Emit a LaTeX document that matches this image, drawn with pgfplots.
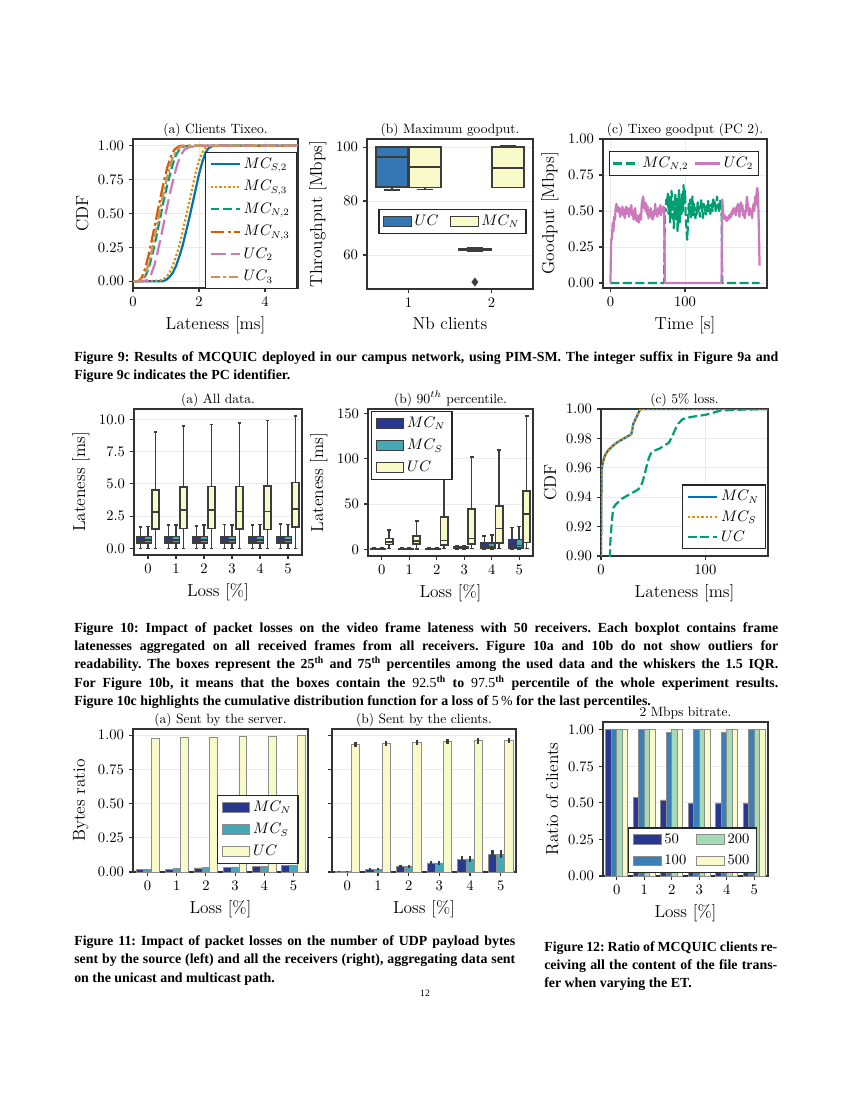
\documentclass[border=0pt]{standalone}
\usepackage{fontspec}
\newfontfamily\capfont{Liberation Serif}
\usepackage{pgfplots}
\pgfplotsset{compat=1.18}
\usepgfplotslibrary{statistics}

\definecolor{cbblue}{HTML}{0173B2}
\definecolor{cborange}{HTML}{DE8F05}
\definecolor{cbgreen}{HTML}{029E73}
\definecolor{cbred}{HTML}{D55E00}
\definecolor{cbpink}{HTML}{CC78BC}
\definecolor{cbtan}{HTML}{CA9161}
\definecolor{ucblue}{HTML}{3477B2}
\definecolor{pale}{HTML}{F9FACA}
\definecolor{navy}{HTML}{283891}
\definecolor{teal}{HTML}{45A8B6}
\definecolor{midblue}{HTML}{3A7FB6}
\definecolor{mint}{HTML}{A6D9B5}
\definecolor{edge}{HTML}{3D3D3D}
\definecolor{baredge}{HTML}{8C8C8C}
\definecolor{axisc}{HTML}{333333}
\definecolor{legc}{HTML}{262626}
\definecolor{gridc}{HTML}{EBEBEB}

\pgfplotsset{
  pg/.style={
    scale only axis, anchor=south west,
    axis line style={draw=axisc, line width=0.9pt},
    tick align=outside, tick pos=left, major tick length=3pt,
    tick style={draw=axisc, line width=0.8pt},
    /pgf/number format/assume math mode=true,
    tick label style={font=\fontsize{10.5}{12}\selectfont},
    label style={font=\fontsize{12.5}{14}\selectfont},
    title style={font=\fontsize{9.7}{11}\selectfont, anchor=base, yshift=-1.7pt},
    grid style={draw=gridc, line width=0.6pt},
    legend style={draw=legc, line width=0.8pt, fill=white,
      font=\fontsize{10.5}{12}\selectfont, inner xsep=3pt, inner ysep=2pt, row sep=1.5pt},
    legend cell align=left,
  },
  lnleg/.style={legend image code/.code={\draw[##1, line cap=butt] (0pt,0pt) -- (21pt,0pt);}},
  shortlnleg/.style={legend image code/.code={\draw[##1, line cap=butt] (0pt,0pt) -- (18pt,0pt);}},
  ptleg/.style={legend image code/.code={\draw[##1, line width=0.7pt] (0pt,-3.5pt) rectangle (20pt,3.5pt);}},
  bx/.style={boxplot prepared, forget plot, solid, draw=edge, line width=1.2pt,
    mark=diamond*, mark size=2.3pt, mark options={fill=edge, draw=edge, solid}},
  fixtwo/.style={yticklabel style={/pgf/number format/fixed, /pgf/number format/fixed zerofill, /pgf/number format/precision=2}},
  fixone/.style={yticklabel style={/pgf/number format/fixed, /pgf/number format/fixed zerofill, /pgf/number format/precision=1}},
}

\begin{document}
\frenchspacing
\begin{tikzpicture}
\fill[white] (0pt,0pt) rectangle (612pt,-792pt);

% ---------- Figure 9a ----------
\begin{axis}[pg, at={(95.76pt,-207.36pt)}, width=118.8pt, height=107.28pt,
  xmin=0, xmax=5, ymin=-0.05, ymax=1.05, xtick={0,2,4}, ytick={0,0.25,0.5,0.75,1}, fixtwo,
  grid=major, title={(a) Clients Tixeo.}, xlabel={Lateness [ms]}, ylabel={CDF},
  lnleg, legend style={at={(0.995,0.913)}, anchor=north east, row sep=3.2pt}]
\addplot[cbblue, line width=1.6pt] coordinates {
 (0,0) (0.9,0) (1.0,0.01) (1.1,0.03) (1.2,0.06) (1.3,0.11) (1.4,0.18) (1.5,0.26) (1.6,0.36)
 (1.7,0.46) (1.8,0.57) (1.9,0.68) (2.0,0.79) (2.1,0.88) (2.2,0.95) (2.3,0.985) (2.4,0.997) (2.6,1.0) (5,1.0)};
\addlegendentry{$MC_{S,2}$}
\addplot[cborange, line width=1.6pt, dash pattern=on 1.6pt off 1.6pt] coordinates {
 (0,0) (0.4,0) (0.8,0.005) (0.9,0.01) (1.0,0.03) (1.1,0.06) (1.2,0.11) (1.3,0.18) (1.4,0.26) (1.5,0.36)
 (1.6,0.47) (1.7,0.58) (1.8,0.69) (1.9,0.8) (2.0,0.89) (2.1,0.95) (2.2,0.985) (2.3,0.997) (2.5,1.0) (5,1.0)};
\addlegendentry{$MC_{S,3}$}
\addplot[cbgreen, line width=1.6pt, dash pattern=on 6.4pt off 2.6pt] coordinates {
 (0,0) (0.2,0) (0.3,0.01) (0.4,0.05) (0.5,0.12) (0.6,0.21) (0.7,0.32) (0.8,0.44) (0.9,0.56) (1.0,0.67)
 (1.1,0.77) (1.2,0.86) (1.3,0.93) (1.4,0.97) (1.5,0.99) (1.6,0.998) (1.8,1.0) (5,1.0)};
\addlegendentry{$MC_{N,2}$}
\addplot[cbred, line width=1.6pt, dash pattern=on 10pt off 2.4pt on 2pt off 2.4pt] coordinates {
 (0,0) (0.15,0) (0.25,0.02) (0.35,0.08) (0.45,0.17) (0.55,0.28) (0.65,0.4) (0.75,0.52) (0.85,0.64)
 (0.95,0.75) (1.05,0.85) (1.15,0.92) (1.25,0.97) (1.35,0.99) (1.45,1.0) (5,1.0)};
\addlegendentry{$MC_{N,3}$}
\addplot[cbpink, line width=1.6pt, dash pattern=on 11pt off 4pt] coordinates {
 (0,0) (0.3,0) (0.45,0.01) (0.55,0.05) (0.65,0.12) (0.75,0.22) (0.85,0.33) (0.95,0.45) (1.05,0.57)
 (1.15,0.68) (1.25,0.78) (1.35,0.87) (1.45,0.93) (1.55,0.97) (1.7,0.99) (1.9,0.997) (2.2,1.0) (5,1.0)};
\addlegendentry{$UC_2$}
\addplot[cbtan, line width=1.6pt, dash pattern=on 7pt off 2pt on 2pt off 2pt] coordinates {
 (0,0) (0.2,0) (0.3,0.02) (0.4,0.07) (0.5,0.15) (0.6,0.26) (0.7,0.38) (0.8,0.5) (0.9,0.62) (1.0,0.73)
 (1.1,0.83) (1.2,0.91) (1.3,0.96) (1.4,0.985) (1.5,0.997) (1.6,1.0) (5,1.0)};
\addlegendentry{$UC_3$}
\end{axis}

% ---------- Figure 9b ----------
\begin{axis}[pg, at={(264.24pt,-208.08pt)}, width=119.52pt, height=108pt,
  xmin=-0.5, xmax=1.5, ymin=47.4, ymax=103, xtick={0,1}, xticklabels={1,2}, ytick={60,80,100},
  ymajorgrids, title={(b) Maximum goodput.}, xlabel={Nb clients}, ylabel={Throughput [Mbps]},
  boxplot/draw direction=y, boxplot/box extend=0.39, boxplot/whisker extend=0.2,
  ptleg, legend columns=2,
  legend style={at={(0.515,0.45)}, anchor=center, /tikz/every even column/.append style={column sep=6pt}}]
\addplot[bx, fill=ucblue, boxplot prepared={draw position=-0.2, lower whisker=84, lower quartile=85.2, median=96.3, upper quartile=100, upper whisker=100}] coordinates {};
\addplot[bx, fill=pale, boxplot prepared={draw position=0.2, lower whisker=84.3, lower quartile=85, median=92.5, upper quartile=100, upper whisker=100}] coordinates {};
\addplot[bx, fill=ucblue, boxplot prepared={draw position=0.8, lower whisker=61.5, lower quartile=61.8, median=62, upper quartile=62.3, upper whisker=62.6}] table[row sep=\\, y index=0] {50\\};
\addplot[bx, fill=pale, boxplot prepared={draw position=1.2, lower whisker=85, lower quartile=85, median=92.3, upper quartile=100, upper whisker=100.3}] coordinates {};
\addlegendimage{fill=ucblue, draw=edge}
\addlegendentry{$UC$}
\addlegendimage{fill=pale, draw=edge}
\addlegendentry{$MC_N$}
\end{axis}

% ---------- Figure 9c ----------
\begin{axis}[pg, at={(434.16pt,-207.36pt)}, width=118.08pt, height=107.28pt,
  xmin=-10, xmax=210, ymin=-0.035, ymax=1.0, xtick={0,100}, ytick={0,0.25,0.5,0.75,1}, fixtwo,
  grid=major, title={(c) Tixeo goodput (PC 2).}, xlabel={Time [s]}, ylabel={Goodput [Mbps]},
  shortlnleg, legend columns=2,
  legend style={at={(0.494,0.836)}, anchor=center, inner xsep=2pt, /tikz/every even column/.append style={column sep=2pt}}]
\addplot[cbgreen, line width=1.6pt, dash pattern=on 6.4pt off 2.6pt, line join=round] coordinates {
 (0,0) (72,0) (73,0.52) (74,0.5) (75,0.58) (76,0.55) (77,0.62) (78,0.48) (79,0.6) (80,0.42) (81,0.55)
 (82,0.64) (83,0.45) (84,0.58) (85,0.38) (86,0.5) (87,0.62) (88,0.44) (89,0.6) (90,0.36) (91,0.52)
 (92,0.65) (93,0.42) (94,0.58) (95,0.46) (96,0.62) (97,0.5) (98,0.68) (99,0.55) (100,0.64) (101,0.45)
 (102,0.38) (103,0.3) (104,0.42) (105,0.55) (106,0.48) (107,0.58) (108,0.45) (109,0.52) (110,0.6)
 (111,0.47) (112,0.55) (113,0.5) (114,0.45) (115,0.52) (116,0.48) (117,0.56) (118,0.5) (119,0.53)
 (120,0.46) (121,0.52) (122,0.58) (123,0.5) (124,0.45) (125,0.55) (126,0.5) (127,0.52) (128,0.46)
 (129,0.55) (130,0.5) (131,0.57) (132,0.5) (133,0.54) (134,0.48) (135,0.52) (136,0.55) (137,0.5)
 (138,0.58) (139,0.53) (140,0.56) (141,0.5) (142,0.55) (143,0.6) (144,0.52) (145,0.55) (146,0.5)
 (147,0.57) (148,0.55) (149,0.52) (150,0) (200,0)};
\addlegendentry{$MC_{N,2}$}
\addplot[cbpink, line width=1.6pt, line join=round] coordinates {
 (0,0) (1,0.30) (2,0.31) (3,0.42) (4,0.36) (5,0.46) (6,0.44) (7,0.52) (8,0.55) (9,0.5) (10,0.53)
 (11,0.49) (12,0.52) (13,0.46) (14,0.51) (15,0.48) (16,0.53) (17,0.47) (18,0.51) (19,0.45) (20,0.5)
 (21,0.53) (22,0.48) (23,0.52) (24,0.5) (25,0.46) (26,0.52) (27,0.49) (28,0.54) (29,0.47) (30,0.5)
 (31,0.44) (32,0.49) (33,0.52) (34,0.46) (35,0.43) (36,0.47) (37,0.44) (38,0.42) (39,0.45) (40,0.48)
 (41,0.44) (42,0.55) (43,0.58) (44,0.6) (45,0.52) (46,0.56) (47,0.5) (48,0.55) (49,0.48) (50,0.53)
 (51,0.45) (52,0.5) (53,0.47) (54,0.52) (55,0.45) (56,0.49) (57,0.44) (58,0.5) (59,0.47) (60,0.55)
 (61,0.48) (62,0.5) (63,0.46) (64,0.52) (65,0.48) (66,0.5) (67,0.54) (68,0.47) (69,0.52) (70,0.5)
 (71,0.53) (72,0.52) (73,0) (149,0) (150,0.58) (151,0.5) (152,0.45) (153,0.47) (154,0.44) (155,0.46)
 (156,0.43) (157,0.45) (158,0.44) (159,0.47) (160,0.45) (161,0.48) (162,0.46) (163,0.5) (164,0.48)
 (165,0.52) (166,0.49) (167,0.51) (168,0.47) (169,0.53) (170,0.5) (171,0.55) (172,0.5) (173,0.46)
 (174,0.52) (175,0.56) (176,0.5) (177,0.54) (178,0.47) (179,0.5) (180,0.45) (181,0.48) (182,0.52)
 (183,0.6) (184,0.55) (185,0.5) (186,0.47) (187,0.52) (188,0.48) (189,0.5) (190,0.45) (191,0.52)
 (192,0.55) (193,0.5) (194,0.6) (195,0.54) (196,0.62) (197,0.66) (198,0.6) (199,0.4) (200,0.12)};
\addlegendentry{$UC_2$}
\end{axis}

% ---------- Figure 10a ----------
\begin{axis}[pg, at={(96.48pt,-399.6pt)}, width=120.96pt, height=105.12pt,
  xmin=-0.5, xmax=5.5, ymin=-0.515, ymax=10.8, xtick={0,...,5}, ytick={0,2.5,5,7.5,10}, fixone,
  ymajorgrids, title={(a) All data.}, xlabel={Loss [\%]}, ylabel={Lateness [ms]},
  boxplot/draw direction=y, boxplot/box extend=0.26, boxplot/whisker extend=0.14]
% MC_N
\addplot[bx, fill=navy, boxplot prepared={draw position=-0.267, lower whisker=0, lower quartile=0.4, median=0.65, upper quartile=0.93, upper whisker=1.65}] coordinates {};
\addplot[bx, fill=navy, boxplot prepared={draw position=0.733, lower whisker=0, lower quartile=0.4, median=0.65, upper quartile=0.93, upper whisker=1.8}] coordinates {};
\addplot[bx, fill=navy, boxplot prepared={draw position=1.733, lower whisker=0, lower quartile=0.4, median=0.65, upper quartile=0.93, upper whisker=1.75}] coordinates {};
\addplot[bx, fill=navy, boxplot prepared={draw position=2.733, lower whisker=0, lower quartile=0.4, median=0.65, upper quartile=0.93, upper whisker=1.85}] coordinates {};
\addplot[bx, fill=navy, boxplot prepared={draw position=3.733, lower whisker=0, lower quartile=0.4, median=0.65, upper quartile=0.93, upper whisker=1.8}] coordinates {};
\addplot[bx, fill=navy, boxplot prepared={draw position=4.733, lower whisker=0, lower quartile=0.4, median=0.65, upper quartile=0.93, upper whisker=1.9}] coordinates {};
% MC_S
\addplot[bx, fill=teal, boxplot prepared={draw position=0, lower whisker=0, lower quartile=0.4, median=0.65, upper quartile=0.92, upper whisker=1.7}] coordinates {};
\addplot[bx, fill=teal, boxplot prepared={draw position=1, lower whisker=0, lower quartile=0.4, median=0.65, upper quartile=0.92, upper whisker=1.8}] coordinates {};
\addplot[bx, fill=teal, boxplot prepared={draw position=2, lower whisker=0, lower quartile=0.4, median=0.65, upper quartile=0.92, upper whisker=1.8}] coordinates {};
\addplot[bx, fill=teal, boxplot prepared={draw position=3, lower whisker=0, lower quartile=0.4, median=0.65, upper quartile=0.92, upper whisker=1.8}] coordinates {};
\addplot[bx, fill=teal, boxplot prepared={draw position=4, lower whisker=0, lower quartile=0.4, median=0.65, upper quartile=0.92, upper whisker=1.85}] coordinates {};
\addplot[bx, fill=teal, boxplot prepared={draw position=5, lower whisker=0, lower quartile=0.4, median=0.65, upper quartile=0.92, upper whisker=1.85}] coordinates {};
% UC
\addplot[bx, fill=pale, boxplot prepared={draw position=0.267, lower whisker=0, lower quartile=1.5, median=2.8, upper quartile=4.5, upper whisker=9.0}] coordinates {};
\addplot[bx, fill=pale, boxplot prepared={draw position=1.267, lower whisker=0, lower quartile=1.55, median=2.95, upper quartile=4.75, upper whisker=9.5}] coordinates {};
\addplot[bx, fill=pale, boxplot prepared={draw position=2.267, lower whisker=0, lower quartile=1.55, median=2.95, upper quartile=4.8, upper whisker=9.6}] coordinates {};
\addplot[bx, fill=pale, boxplot prepared={draw position=3.267, lower whisker=0, lower quartile=1.5, median=2.85, upper quartile=4.8, upper whisker=9.7}] coordinates {};
\addplot[bx, fill=pale, boxplot prepared={draw position=4.267, lower whisker=0, lower quartile=1.45, median=2.85, upper quartile=4.85, upper whisker=9.9}] coordinates {};
\addplot[bx, fill=pale, boxplot prepared={draw position=5.267, lower whisker=0, lower quartile=1.65, median=3.05, upper quartile=5.1, upper whisker=10.25}] coordinates {};
\end{axis}

% ---------- Figure 10b ----------
\begin{axis}[pg, at={(264.96pt,-400.32pt)}, width=118.8pt, height=105.84pt,
  xmin=-0.5, xmax=5.5, ymin=-7.4, ymax=154.9, xtick={0,...,5}, ytick={0,50,100,150},
  ymajorgrids, title={(b) $90^{th}$ percentile.}, xlabel={Loss [\%]}, ylabel={Lateness [ms]},
  boxplot/draw direction=y, boxplot/box extend=0.26, boxplot/whisker extend=0.14,
  ptleg, legend style={at={(0.018,0.986)}, anchor=north west, row sep=3pt}]
% MC_N
\addplot[bx, fill=navy, boxplot prepared={draw position=-0.267, lower whisker=0, lower quartile=0.3, median=0.5, upper quartile=0.7, upper whisker=1.2}] coordinates {};
\addplot[bx, fill=navy, boxplot prepared={draw position=0.733, lower whisker=0, lower quartile=0.3, median=0.5, upper quartile=0.8, upper whisker=1.4}] coordinates {};
\addplot[bx, fill=navy, boxplot prepared={draw position=1.733, lower whisker=0, lower quartile=0.3, median=0.6, upper quartile=0.9, upper whisker=1.5}] coordinates {};
\addplot[bx, fill=navy, boxplot prepared={draw position=2.733, lower whisker=0.5, lower quartile=1.2, median=1.8, upper quartile=2.6, upper whisker=3.5}] coordinates {};
\addplot[bx, fill=navy, boxplot prepared={draw position=3.733, lower whisker=0.5, lower quartile=1.0, median=2.5, upper quartile=6.6, upper whisker=14.7}] coordinates {};
\addplot[bx, fill=navy, boxplot prepared={draw position=4.733, lower whisker=0.5, lower quartile=1.2, median=4.0, upper quartile=10.7, upper whisker=24}] coordinates {};
% MC_S
\addplot[bx, fill=teal, boxplot prepared={draw position=0, lower whisker=0, lower quartile=0.3, median=0.5, upper quartile=0.7, upper whisker=1.2}] coordinates {};
\addplot[bx, fill=teal, boxplot prepared={draw position=1, lower whisker=0, lower quartile=0.3, median=0.5, upper quartile=0.8, upper whisker=1.4}] coordinates {};
\addplot[bx, fill=teal, boxplot prepared={draw position=2, lower whisker=0, lower quartile=0.3, median=0.6, upper quartile=0.9, upper whisker=1.5}] coordinates {};
\addplot[bx, fill=teal, boxplot prepared={draw position=3, lower whisker=0.5, lower quartile=1.1, median=1.7, upper quartile=2.5, upper whisker=3.4}] coordinates {};
\addplot[bx, fill=teal, boxplot prepared={draw position=4, lower whisker=0.5, lower quartile=1.0, median=2.5, upper quartile=6.8, upper whisker=15.5}] coordinates {};
\addplot[bx, fill=teal, boxplot prepared={draw position=5, lower whisker=0.5, lower quartile=1.2, median=4.2, upper quartile=11, upper whisker=25}] coordinates {};
% UC
\addplot[bx, fill=pale, boxplot prepared={draw position=0.267, lower whisker=1, lower quartile=5.2, median=8.1, upper quartile=11.8, upper whisker=21}] coordinates {};
\addplot[bx, fill=pale, boxplot prepared={draw position=1.267, lower whisker=0.5, lower quartile=5.5, median=9.2, upper quartile=14.7, upper whisker=31.3}] coordinates {};
\addplot[bx, fill=pale, boxplot prepared={draw position=2.267, lower whisker=0.8, lower quartile=5, median=9.6, upper quartile=35.4, upper whisker=85}] coordinates {};
\addplot[bx, fill=pale, boxplot prepared={draw position=3.267, lower whisker=1, lower quartile=5.9, median=11.8, upper quartile=44.2, upper whisker=102}] coordinates {};
\addplot[bx, fill=pale, boxplot prepared={draw position=4.267, lower whisker=1, lower quartile=7, median=22.9, upper quartile=47.9, upper whisker=110}] coordinates {};
\addplot[bx, fill=pale, boxplot prepared={draw position=5.267, lower whisker=1, lower quartile=7.5, median=39, upper quartile=64.1, upper whisker=147.4}] coordinates {};
\addlegendimage{fill=navy, draw=edge}
\addlegendentry{$MC_N$}
\addlegendimage{fill=teal, draw=edge}
\addlegendentry{$MC_S$}
\addlegendimage{fill=pale, draw=edge}
\addlegendentry{$UC$}
\end{axis}

% ---------- Figure 10c ----------
\begin{axis}[pg, at={(432.72pt,-400.32pt)}, width=120.24pt, height=105.84pt,
  xmin=0, xmax=160, ymin=0.9, ymax=1.0, xtick={0,100}, ytick={0.9,0.92,0.94,0.96,0.98,1.0}, fixtwo,
  grid=major, title={(c) 5\% loss.}, xlabel={Lateness [ms]}, ylabel={CDF},
  lnleg, legend style={at={(0.99,0.045)}, anchor=south east}]
\addplot[cbblue, line width=1.6pt] coordinates {
 (0,0.90) (0.5,0.958) (1,0.961) (2,0.964) (3,0.967) (5,0.970) (7,0.972) (10,0.974) (13,0.976) (17,0.978)
 (22,0.980) (27,0.982) (29,0.983) (30,0.986) (31,0.99) (33,0.993) (35,0.996) (37,0.999) (38,1.0) (160,1.0)};
\addlegendentry{$MC_N$}
\addplot[cborange, line width=1.6pt, dash pattern=on 1.6pt off 1.6pt] coordinates {
 (0,0.90) (0.5,0.958) (1,0.961) (2,0.964) (3,0.967) (5,0.970) (7,0.972) (10,0.974) (13,0.976) (17,0.978)
 (22,0.980) (27,0.982) (29,0.983) (30,0.986) (31,0.99) (33,0.993) (35,0.996) (37,0.999) (38,1.0) (160,1.0)};
\addlegendentry{$MC_S$}
\addplot[cbgreen, line width=1.6pt, dash pattern=on 6.4pt off 2.6pt] coordinates {
 (8.3,0.89) (8.6,0.90) (9,0.91) (10,0.92) (11,0.928) (12,0.933) (14,0.935) (17,0.937) (20,0.939) (25,0.941)
 (30,0.943) (35,0.945) (38,0.947) (40,0.951) (42,0.956) (44,0.962) (46,0.967) (48,0.970) (52,0.972)
 (56,0.973) (60,0.975) (65,0.977) (68,0.981) (71,0.986) (74,0.990) (78,0.993) (82,0.994) (90,0.995)
 (100,0.996) (105,0.997) (110,0.998) (115,0.999) (130,0.9995) (160,1.0)};
\addlegendentry{$UC$}
\end{axis}

% ---------- Figure 11a ----------
\begin{axis}[pg, at={(95.76pt,-627.84pt)}, width=126pt, height=102.96pt,
  ybar=0pt, bar width=0.267,
  xmin=-0.5, xmax=5.5, ymin=0, ymax=1.045, xtick={0,...,5}, ytick={0,0.25,0.5,0.75,1}, fixtwo,
  ymajorgrids, title={(a) Sent by the server.}, xlabel={Loss [\%]}, ylabel={Bytes ratio},
  ptleg, legend style={at={(0.48,0.538)}, anchor=north west, row sep=3pt}]
\addplot[fill=navy, draw=baredge, line width=0.5pt] coordinates {(0,0.017) (1,0.022) (2,0.03) (3,0.035) (4,0.04) (5,0.047)};
\addlegendentry{$MC_N$}
\addplot[fill=teal, draw=baredge, line width=0.5pt] coordinates {(0,0.02) (1,0.025) (2,0.032) (3,0.037) (4,0.042) (5,0.05)};
\addlegendentry{$MC_S$}
\addplot[fill=pale, draw=baredge, line width=0.5pt] coordinates {(0,0.978) (1,0.982) (2,0.986) (3,0.99) (4,0.995) (5,1.0)};
\addlegendentry{$UC$}
\end{axis}

% ---------- Figure 11b ----------
\begin{axis}[pg, at={(239.04pt,-627.84pt)}, width=132.48pt, height=102.96pt,
  ybar=0pt, bar width=0.267,
  xmin=-0.5, xmax=5.5, ymin=0, ymax=1.045, xtick={0,...,5}, ytick={0,0.25,0.5,0.75,1}, yticklabels={},
  ymajorgrids, title={(b) Sent by the clients.}, xlabel={Loss [\%]},
  error bars/y dir=both, error bars/y explicit, error bars/error mark=none,
  error bars/error bar style={draw=edge, line width=1.6pt}]
\addplot[fill=navy, draw=baredge, line width=0.5pt] coordinates {
 (0,0.007) +- (0,0.004) (1,0.02) +- (0,0.008) (2,0.041) +- (0,0.012) (3,0.066) +- (0,0.018) (4,0.095) +- (0,0.022) (5,0.13) +- (0,0.03)};
\addplot[fill=teal, draw=baredge, line width=0.5pt] coordinates {
 (0,0.005) +- (0,0.004) (1,0.02) +- (0,0.008) (2,0.042) +- (0,0.012) (3,0.066) +- (0,0.018) (4,0.096) +- (0,0.024) (5,0.13) +- (0,0.03)};
\addplot[fill=pale, draw=baredge, line width=0.5pt] coordinates {
 (0,0.932) +- (0,0.02) (1,0.939) +- (0,0.02) (2,0.949) +- (0,0.018) (3,0.954) +- (0,0.018) (4,0.959) +- (0,0.02) (5,0.963) +- (0,0.018)};
\end{axis}

% ---------- Figure 12 ----------
\begin{axis}[pg, at={(434.16pt,-630.72pt)}, width=118.8pt, height=110.88pt,
  ybar=0pt, bar width=0.2,
  xmin=-0.5, xmax=5.5, ymin=0, ymax=1.053, xtick={0,...,5}, ytick={0,0.25,0.5,0.75,1}, fixtwo,
  ymajorgrids, title={2 Mbps bitrate.}, xlabel={Loss [\%]}, ylabel={Ratio of clients},
  ptleg, legend columns=2, transpose legend,
  legend style={at={(0.933,0.02)}, anchor=south east, row sep=3pt, /tikz/every even column/.append style={column sep=5pt}}]
\addplot[fill=navy, draw=baredge, line width=0.5pt] coordinates {(0,1.0) (1,0.54) (2,0.52) (3,0.50) (4,0.50) (5,0.50)};
\addlegendentry{50}
\addplot[fill=midblue, draw=baredge, line width=0.5pt] coordinates {(0,1.0) (1,1.0) (2,0.98) (3,1.0) (4,0.98) (5,1.0)};
\addlegendentry{100}
\addplot[fill=mint, draw=baredge, line width=0.5pt] coordinates {(0,1.0) (1,1.0) (2,1.0) (3,1.0) (4,1.0) (5,1.0)};
\addlegendentry{200}
\addplot[fill=pale, draw=baredge, line width=0.5pt] coordinates {(0,1.0) (1,1.0) (2,1.0) (3,1.0) (4,1.0) (5,1.0)};
\addlegendentry{500}
\end{axis}

% ---------- captions ----------
\node[anchor=north west, inner sep=0pt, text width=506.9pt, align=justify,
  font=\capfont\bfseries\fontsize{10}{13.3}\selectfont] at (53.28pt,-252.7pt) {%
Figure 9: Results of MCQUIC deployed in our campus network, using PIM-SM. The integer suffix in Figure 9a and\linebreak
Figure 9c indicates the PC identifier.};

\node[anchor=north west, inner sep=0pt, text width=506.9pt, align=justify,
  font=\capfont\bfseries\fontsize{10}{13.3}\selectfont] at (53.28pt,-447.8pt) {%
Figure 10: Impact of packet losses on the video frame lateness with 50 receivers. Each boxplot contains frame\linebreak
latenesses aggregated on all received frames from all receivers. Figure 10a and 10b do not show outliers for\linebreak
readability. The boxes represent the 25\textsuperscript{th} and 75\textsuperscript{th} percentiles among the used data and the whiskers the 1.5 IQR.\linebreak
For Figure 10b, it means that the boxes contain the {\mdseries 92.5}\textsuperscript{th} to {\mdseries 97.5}\textsuperscript{th} percentile of the whole experiment results.\linebreak
Figure 10c highlights the cumulative distribution function for a loss of {\mdseries 5\,\%} for the last percentiles.};

\node[anchor=north west, inner sep=0pt, text width=317.5pt, align=justify,
  font=\capfont\bfseries\fontsize{10}{13.3}\selectfont] at (53.28pt,-673.2pt) {%
Figure 11: Impact of packet losses on the number of UDP payload bytes\linebreak
sent by the source (left) and all the receivers (right), aggregating data sent\linebreak
on the unicast and multicast path.};

\node[anchor=north west, inner sep=0pt, text width=167.8pt, align=justify,
  font=\capfont\bfseries\fontsize{10}{13.3}\selectfont] at (391.68pt,-677.5pt) {%
Figure 12: Ratio of MCQUIC clients re-\linebreak
ceiving all the content of the file trans-\linebreak
fer when varying the ET.};

\node[font=\capfont\fontsize{7}{8}\selectfont] at (306pt,-714.96pt) {12};
\end{tikzpicture}
\end{document}
